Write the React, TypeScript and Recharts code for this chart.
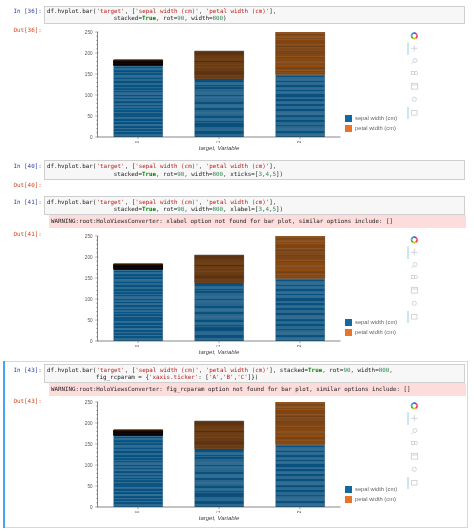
import React from 'react';
import { BarChart, Bar, XAxis, YAxis, Legend } from 'recharts';

const categories = ['0', '1', '2'];
const sepalWidth0 = [3.5,3.0,3.2,3.1,3.6,3.9,3.4,3.4,2.9,3.1,3.7,3.4,3.0,3.0,4.0,4.4,3.9,3.5,3.8,3.8,3.4,3.7,3.6,3.3,3.4,3.0,3.4,3.5,3.4,3.2,3.1,3.4,4.1,4.2,3.1,3.2,3.5,3.1,3.0,3.4,3.5,2.3,3.2,3.5,3.8,3.0,3.8,3.2,3.7,3.3];
const sepalWidth1 = [3.2,3.2,3.1,2.3,2.8,2.8,3.3,2.4,2.9,2.7,2.0,3.0,2.2,2.9,2.9,3.1,3.0,2.7,2.2,2.5,3.2,2.8,2.5,2.8,2.9,3.0,2.8,3.0,2.9,2.6,2.4,2.4,2.7,2.7,3.0,3.4,3.1,2.3,3.0,2.5,2.6,3.0,2.6,2.3,2.7,3.0,2.9,2.9,2.5,2.8];
const sepalWidth2 = [3.3,2.7,3.0,2.9,3.0,3.0,2.5,2.9,2.5,3.6,3.2,2.7,3.0,2.5,2.8,3.2,3.0,3.8,2.6,2.2,3.2,2.8,2.8,2.7,3.3,3.2,2.8,3.0,2.8,3.0,2.8,3.8,2.8,2.8,2.6,3.0,3.4,3.1,3.0,3.1,3.1,3.1,2.7,3.2,3.3,3.0,2.5,3.0,3.4,3.0];
const petalWidth0 = [0.2,0.2,0.2,0.2,0.2,0.4,0.3,0.2,0.2,0.1,0.2,0.2,0.1,0.1,0.2,0.4,0.4,0.3,0.3,0.3,0.2,0.4,0.2,0.5,0.2,0.2,0.4,0.2,0.2,0.2,0.2,0.4,0.1,0.2,0.2,0.2,0.2,0.1,0.2,0.2,0.3,0.3,0.2,0.6,0.4,0.3,0.2,0.2,0.2,0.2];
const petalWidth1 = [1.4,1.5,1.5,1.3,1.5,1.3,1.6,1.0,1.3,1.4,1.0,1.5,1.0,1.4,1.3,1.4,1.5,1.0,1.5,1.1,1.8,1.3,1.5,1.2,1.3,1.4,1.4,1.7,1.5,1.0,1.1,1.0,1.2,1.6,1.5,1.6,1.5,1.3,1.3,1.3,1.2,1.4,1.2,1.0,1.3,1.2,1.3,1.3,1.1,1.3];
const petalWidth2 = [2.5,1.9,2.1,1.8,2.2,2.1,1.7,1.8,1.8,2.5,2.0,1.9,2.1,2.0,2.4,2.3,1.8,2.2,2.3,1.5,2.3,2.0,2.0,1.8,2.1,1.8,1.8,1.8,2.1,1.6,1.9,2.0,2.2,1.5,1.4,2.3,2.4,1.8,1.8,2.1,2.4,2.3,1.9,2.3,2.5,2.3,1.9,2.0,2.3,1.8];
const yTicks = [0,10,20,30,40,50,60,70,80,90,100,110,120,130,140,150,160,170,180,190,200,210,220,230,240,250];
const seriesNames = ['sepal width (cm)', 'petal width (cm)'];
const BLUE = '#0b5c8e';
const ORANGE = '#f57a10';

const sepal = [sepalWidth0, sepalWidth1, sepalWidth2];
const petal = [petalWidth0, petalWidth1, petalWidth2];
const rows = categories.map((target, c) => {
  const row: Record<string, number | string> = { target };
  sepal[c].forEach((v, i) => { row['s' + i] = v; });
  petal[c].forEach((v, i) => { row['p' + i] = v; });
  return row;
});
const rowIds = sepalWidth0.map((_, i) => i);

const MONO = '"DejaVu Sans Mono", monospace';
const SANS = '"Liberation Sans", Arial, sans-serif';

const YTick = (props: any) => {
  const { x, y, payload } = props;
  const major = payload.value % 50 === 0;
  return (
    <g>
      <line x1={x - (major ? 2.2 : 1.3)} x2={x + (major ? 0.9 : 0)} y1={y} y2={y} stroke="#555" strokeWidth={0.5} />
      {major && (
        <text x={x - 5} y={y + 1.6} textAnchor="end" fontSize={4.6} fill="#555" fontFamily={SANS}>{payload.value}</text>
      )}
    </g>
  );
};

const XTick = (props: any) => {
  const { x, y, payload } = props;
  return (
    <g>
      <line x1={x} x2={x} y1={y - 0.8} y2={y + 2.2} stroke="#555" strokeWidth={0.5} />
      <text x={x} y={y + 6} textAnchor="middle" fontSize={4.6} fill="#555" fontFamily={SANS}
        transform={`rotate(-90 ${x} ${y + 5})`}>{payload.value}</text>
    </g>
  );
};

const LegendBody = () => (
  <div style={{ position: 'relative', width: 0, height: 0 }}>
    {seriesNames.map((name, i) => (
      <div key={name} style={{ position: 'absolute', left: 0, top: i * 10, width: 70, height: 7 }}>
        <div style={{ position: 'absolute', left: 0, top: 0, width: 7.2, height: 7, background: i === 0 ? '#12689f' : '#e8742a' }} />
        <div style={{ position: 'absolute', left: 10, top: 0, lineHeight: '7px', fontSize: 5.8, color: '#666', fontFamily: SANS, whiteSpace: 'pre' }}>{name}</div>
      </div>
    ))}
  </div>
);

const Toolbar = () => {
  const g = { stroke: '#c8ccd0', strokeWidth: 0.8, fill: 'none' };
  return (
    <svg width={22} height={96} style={{ position: 'absolute', left: 404, top: 0 }}>
      {['#e8483b', '#f4b400', '#4caf50', '#2a9fd6', '#3f51b5', '#e84393'].map((c, i) => (
        <circle key={c} cx={10.3} cy={9.8} r={2.8} fill="none" stroke={c} strokeWidth={1.7}
          strokeDasharray="2.94 14.65" strokeDashoffset={-i * 2.93} />
      ))}
      <rect x={3.6} y={16.3} width={0.8} height={12.7} fill="#7fc0dc" />
      <rect x={3.6} y={81} width={0.8} height={12} fill="#7fc0dc" />
      <path d="M10.3 19v6.5M7 22.3h6.5" {...g} />
      <g {...g}><circle cx={11} cy={34.5} r={2} /><path d="M9.5 36l-2 2" /></g>
      <g {...g}><rect x={7.3} y={45.5} width={3} height={3} /><circle cx={12} cy={47} r={1.6} /></g>
      <g {...g}><rect x={7.3} y={57.3} width={6.4} height={5.8} /><path d="M7.3 59h6.4" /></g>
      <circle cx={10.3} cy={73.3} r={2.1} {...g} />
      <g {...g}><rect x={7.6} y={84.5} width={5.4} height={4.6} /></g>
    </svg>
  );
};

const IrisChart = ({ top }: { top: number }) => (
  <div style={{ position: 'absolute', left: 0, top, width: 474, height: 135 }}>
    <BarChart width={474} height={135} data={rows} barCategoryGap="20%"
      margin={{ top: 6, left: 0, right: 133.5, bottom: 0 }}>
      <XAxis dataKey="target" height={24} tickSize={0} tickMargin={0} tickLine={false}
        axisLine={{ stroke: '#555', strokeWidth: 0.7 }} tick={<XTick />} interval={0}
        label={{ value: 'target, Variable', position: 'insideBottom', offset: 11, fontSize: 6, fontStyle: 'italic', fill: '#444', fontFamily: SANS }} />
      <YAxis type="number" domain={[0, 250]} ticks={yTicks} width={97.5} interval={0} tickSize={0} tickMargin={0} tickLine={false}
        axisLine={{ stroke: '#555', strokeWidth: 0.7 }} tick={<YTick />} allowDataOverflow />
      {rowIds.map((i) => (
        <Bar key={'s' + i} dataKey={'s' + i} stackId="a" fill={BLUE} stroke="#04273f" strokeWidth={0.16} isAnimationActive={false} legendType="none" />
      ))}
      {rowIds.map((i) => (
        <Bar key={'p' + i} dataKey={'p' + i} stackId="a" fill={ORANGE} stroke="#000" strokeWidth={0.33} isAnimationActive={false} legendType="none" />
      ))}
      <Legend content={<LegendBody />} wrapperStyle={{ position: 'absolute', left: 345, top: 89.6, width: 0, height: 0, margin: 0, padding: 0 }} />
    </BarChart>
    <Toolbar />
  </div>
);

const CodeLine = ({ x, y, text }: { x: number; y: number; text: string }) => {
  const parts = text.split(/('[^']*'|\bTrue\b|\b\d+\b)/);
  return (
    <div style={{ position: 'absolute', left: x, top: y - 3.5, lineHeight: '7px', fontSize: 5.87, fontFamily: MONO, whiteSpace: 'pre', color: '#222' }}>
      {parts.map((p, i) => {
        const color = p.startsWith("'") ? '#ba2121' : p === 'True' ? '#008000' : /^\d+$/.test(p) ? '#2e8b57' : undefined;
        return <span key={i} style={{ color, fontWeight: p === 'True' ? 700 : 400 }}>{p}</span>;
      })}
    </div>
  );
};

const Prompt = ({ y, text, out }: { y: number; text: string; out?: boolean }) => (
  <div style={{ position: 'absolute', left: 13.5, top: y - 3.5, lineHeight: '7px', fontSize: 5.87, fontFamily: MONO, whiteSpace: 'pre', color: out ? '#d84315' : '#303f9f' }}>{text}</div>
);

const Box = ({ y1, y2 }: { y1: number; y2: number }) => (
  <div style={{ position: 'absolute', left: 44.3, top: y1, width: 421, height: y2 - y1, boxSizing: 'border-box', background: '#f7f7f7', border: '0.5px solid #cfcfcf' }} />
);

const Warning = ({ y1, y2, text }: { y1: number; y2: number; text: string }) => (
  <>
    <div style={{ position: 'absolute', left: 48.5, top: y1, width: 417, height: y2 - y1, background: '#fddcdc' }} />
    <div style={{ position: 'absolute', left: 51, top: (y1 + y2) / 2 - 3.5, lineHeight: '7px', fontSize: 5.8, fontFamily: MONO, whiteSpace: 'pre', color: '#222' }}>{text}</div>
  </>
);

export default function App() {
  const first = "df.hvplot.bar('target', ['sepal width (cm)', 'petal width (cm)'],";
  return (
    <div style={{ position: 'absolute', left: 0, top: 0, width: 474, height: 531, overflow: 'hidden', background: '#fff', filter: 'blur(0.35px)' }}>
      {/* selected cell frame */}
      <div style={{ position: 'absolute', left: 3, top: 361, width: 465, height: 167, boxSizing: 'border-box', border: '1px solid #d8d8d8' }} />
      <div style={{ position: 'absolute', left: 3, top: 361, width: 1.6, height: 167, background: '#42a5f5' }} />

      <Box y1={5.7} y2={24.3} />
      <Prompt y={11.3} text="In [36]:" />
      <CodeLine x={47} y={11.3} text={first} />
      <CodeLine x={113.7} y={18.7} text="stacked=True, rot=90, width=800)" />
      <Prompt y={30} text="Out[36]:" out />
      <IrisChart top={25.7} />

      <Box y1={160.3} y2={179.7} />
      <Prompt y={166.7} text="In [40]:" />
      <CodeLine x={47} y={166.7} text={first} />
      <CodeLine x={113.7} y={174} text="stacked=True, rot=90, width=800, xticks=[3,4,5])" />
      <Prompt y={185.7} text="Out[40]:" out />

      <Box y1={196.3} y2={215.3} />
      <Prompt y={202.7} text="In [41]:" />
      <CodeLine x={47} y={202.7} text={first} />
      <CodeLine x={113.7} y={209.7} text="stacked=True, rot=90, width=800, xlabel=[3,4,5])" />
      <Warning y1={215.3} y2={228.3} text="WARNING:root:HoloViewsConverter: xlabel option not found for bar plot, similar options include: []" />
      <Prompt y={234.3} text="Out[41]:" out />
      <IrisChart top={229.7} />

      <Box y1={364.3} y2={382.7} />
      <Prompt y={370} text="In [43]:" />
      <CodeLine x={47} y={370} text={first + " stacked=True, rot=90, width=800,"} />
      <CodeLine x={96} y={377.3} text="fig_rcparam = {'xaxis.ticker': ['A','B','C']})" />
      <Warning y1={382.7} y2={395.7} text="WARNING:root:HoloViewsConverter: fig_rcparam option not found for bar plot, similar options include: []" />
      <Prompt y={401} text="Out[43]:" out />
      <IrisChart top={396.3} />
    </div>
  );
}
